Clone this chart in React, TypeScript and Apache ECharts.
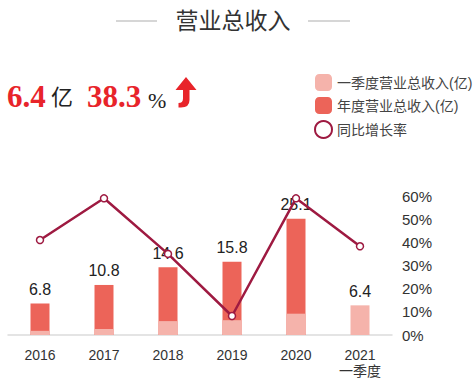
import React, { useEffect, useRef } from "react";
import * as echarts from "echarts";

const categories = ["2016", "2017", "2018", "2019", "2020", "2021\n一季度"];
const annualRevenue: (number | null)[] = [6.8, 10.8, 14.6, 15.8, 25.1, null];
const quarterRevenue = [0.9, 1.3, 3.0, 3.2, 4.6, 6.4];
const growthRate = [41, 59, 35, 8.2, 59, 38.3];
const leftTicks = { min: 0, max: 30, interval: 5 };
const rightTicks = { min: 0, max: 60, interval: 10 };
const headline = { revenue: "6.4", unit: "亿", growth: "38.3", pct: "%" };

const FONT = "'Liberation Sans', 'Noto Sans CJK SC', sans-serif";
const SERIF = "'Liberation Serif', serif";
const C_ANNUAL = "#ec6459";
const C_QUARTER = "#f5b3ab";
const C_LINE = "#9e1a41";
const C_RED = "#e8242a";

const ARROW_D =
  "M186,77 L196.5,90 L189.5,90 L189.5,100 Q189.5,107.5 181,107.5 L178.5,107.5 L178.5,103 Q183,103 183,98.5 L183,90 L175.5,90 Z";

let registered = false;

export default function App() {
  const ref = useRef<HTMLDivElement>(null);
  useEffect(() => {
    if (!ref.current) return;
    if (!registered) {
      echarts.graphic.registerShape("arrowUp", echarts.graphic.extendPath(ARROW_D, {}));
      registered = true;
    }
    const chart = echarts.init(ref.current, null, { renderer: "svg" });
    const lastIdx = quarterRevenue.length - 1;
    chart.setOption({
      animation: false,
      textStyle: { fontFamily: FONT },
      graphic: [
        { type: "line", shape: { x1: 116, y1: 21, x2: 157, y2: 21 }, style: { stroke: "#c8c8c8", lineWidth: 1.5 } },
        { type: "line", shape: { x1: 308, y1: 21, x2: 350, y2: 21 }, style: { stroke: "#c8c8c8", lineWidth: 1.5 } },
        {
          type: "text", x: 233, y: 21,
          style: { text: "营业总收入", font: `23px ${FONT}`, fill: "#333", align: "center", verticalAlign: "middle" },
        },
        {
          type: "text", x: 7, y: 96.5,
          style: { text: headline.revenue, font: `bold 31px ${SERIF}`, fill: C_RED, verticalAlign: "middle" },
        },
        {
          type: "text", x: 51, y: 97,
          style: { text: headline.unit, font: `22px ${FONT}`, fill: "#222", verticalAlign: "middle" },
        },
        {
          type: "text", x: 87, y: 96.5,
          style: { text: headline.growth, font: `bold 31px ${SERIF}`, fill: C_RED, verticalAlign: "middle" },
        },
        {
          type: "text", x: 148, y: 100,
          style: { text: headline.pct, font: `22px ${SERIF}`, fill: "#222", verticalAlign: "middle" },
        },
        { type: "arrowUp", x: 0, y: 0, style: { fill: C_RED } },
      ],
      legend: {
        orient: "vertical",
        left: 309,
        top: 69,
        itemWidth: 17,
        itemHeight: 17,
        itemGap: 6,
        textStyle: { fontSize: 14, color: "#444", fontFamily: FONT },
        data: [
          { name: "一季度营业总收入(亿)", icon: "roundRect" },
          { name: "年度营业总收入(亿)", icon: "roundRect" },
          { name: "同比增长率", icon: "emptyCircle", itemStyle: { color: C_LINE, borderColor: C_LINE, borderWidth: 1.2 } },
        ],
      },
      grid: { left: 8, right: 82, top: 196, bottom: 47 },
      xAxis: {
        type: "category",
        data: categories,
        axisLine: { lineStyle: { color: "#dcdcdc", width: 1.5 } },
        axisTick: { show: false },
        axisLabel: { color: "#333", fontSize: 14, margin: 12, lineHeight: 16, fontFamily: FONT },
      },
      yAxis: [
        { type: "value", ...leftTicks, show: false, splitLine: { show: false } },
        {
          type: "value", ...rightTicks, position: "right",
          axisLine: { show: false }, axisTick: { show: false }, splitLine: { show: false },
          axisLabel: { formatter: "{value}%", color: "#333", fontSize: 15, margin: 10, fontFamily: FONT },
        },
      ],
      series: [
        {
          name: "年度营业总收入(亿)",
          type: "bar",
          yAxisIndex: 0,
          barWidth: 19,
          itemStyle: { color: C_ANNUAL },
          label: { show: true, position: "top", distance: 6, fontSize: 16, color: "#222", fontFamily: FONT },
          data: annualRevenue,
          z: 2,
        },
        {
          name: "一季度营业总收入(亿)",
          type: "bar",
          yAxisIndex: 0,
          barWidth: 19,
          barGap: "-100%",
          itemStyle: { color: C_QUARTER },
          data: quarterRevenue.map((v, i) =>
            i === lastIdx
              ? { value: v, label: { show: true, position: "top", distance: 6, fontSize: 16, color: "#222", fontFamily: FONT } }
              : v
          ),
          z: 2,
        },
        {
          name: "同比增长率",
          type: "line",
          yAxisIndex: 1,
          data: growthRate,
          symbol: "circle",
          symbolSize: 7,
          lineStyle: { color: C_LINE, width: 2.5 },
          itemStyle: { color: "#fff", borderColor: C_LINE, borderWidth: 1.5 },
          z: 5,
        },
      ],
    });
    return () => chart.dispose();
  }, []);
  return <div ref={ref} style={{ width: 474, height: 382, position: "absolute", left: 0, top: 0 }} />;
}
